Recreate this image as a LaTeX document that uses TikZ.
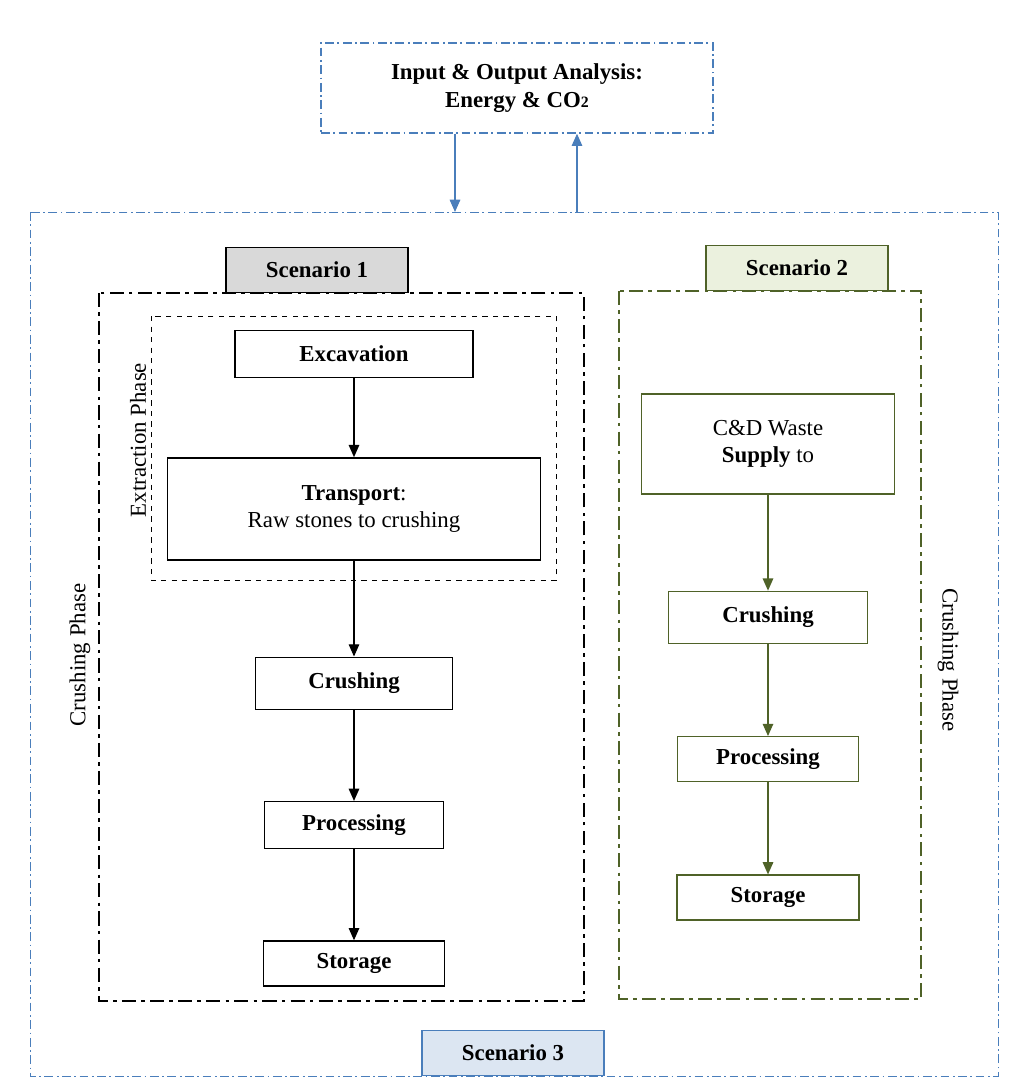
\documentclass[tikz,border=0pt]{standalone}
\usepackage{fontspec}
\setmainfont{Liberation Serif}
\usetikzlibrary{arrows.meta, positioning}
\definecolor{ioblue}{HTML}{4A7EBB}
\definecolor{olive}{HTML}{4F6228}
\definecolor{sgray}{HTML}{D9D9D9}
\definecolor{sgreen}{HTML}{EBF1DE}
\definecolor{sblue}{HTML}{DCE6F2}
\begin{document}
\begin{tikzpicture}[
        x=0.02cm, y=-0.02cm,
        font=\fontsize{13}{15}\selectfont,
        block/.style={rectangle, draw, thick, text centered, inner sep=2pt},
        gblock/.style={block, draw=olive},
        tag/.style={rectangle, draw, thick, font=\fontsize{13}{15}\selectfont\bfseries, minimum width=3.64cm, minimum height=0.9cm},
        phase/.style={line width=1.6pt, dash pattern=on 8pt off 3pt on 2pt off 3pt},
        arrow/.style={thick,-{Triangle[length=7pt,width=6pt]}}
    ]
        \useasboundingbox (0,0) rectangle (1018,1086);

        % Analysis box and frame
        \node[block, draw=ioblue, dash pattern=on 5pt off 2pt on 1pt off 2pt, minimum width=7.84cm, minimum height=1.8cm,
              font=\fontsize{13}{16}\selectfont\bfseries, align=center] (analysis) at (517,88)
              {Input \& Output Analysis:\\Energy \& CO{\fontsize{9}{10}\selectfont 2}};
        \draw[ioblue, thin, dash pattern=on 5pt off 2pt on 1pt off 2pt] (30,212) rectangle (998,1076);
        \coordinate (inA) at (455,212);
        \coordinate (outA) at (577,212);
        \draw[arrow, ioblue] (analysis.south -| inA) -- (inA);
        \draw[arrow, ioblue] (outA) -- (analysis.south -| outA);

        % Scenario 1
        \draw[phase] (99,293) rectangle (584,1001);
        \node[tag, fill=sgray] (scenA) at (317,270) {Scenario 1};
        \draw[dashed] (151,316) rectangle (556,580);
        \node[rotate=90] (extPhase) at (138,440) {Extraction Phase};
        \node[rotate=90] (crushPhaseA) at (80,655) {Crushing Phase};

        \node[block, minimum width=4.76cm, minimum height=0.94cm, font=\fontsize{13}{15}\selectfont\bfseries] (excavation) at (354,354) {Excavation};
        \node[block, minimum width=7.46cm, minimum height=2.04cm, align=center, below=1.58cm of excavation] (transport)
              {\textbf{Transport}:\\Raw stones to crushing};
        \node[block, minimum width=3.94cm, minimum height=1.04cm, font=\fontsize{13}{15}\selectfont\bfseries, below=1.92cm of transport] (crushA) {Crushing};
        \node[block, minimum width=3.58cm, minimum height=0.94cm, font=\fontsize{13}{15}\selectfont\bfseries, below=1.82cm of crushA] (procA) {Processing};
        \node[block, minimum width=3.62cm, minimum height=0.9cm, font=\fontsize{13}{15}\selectfont\bfseries, below=1.82cm of procA] (storeA) {Storage};

        \draw[arrow] (excavation) -- (transport);
        \draw[arrow] (transport) -- (crushA);
        \draw[arrow] (crushA) -- (procA);
        \draw[arrow] (procA) -- (storeA);

        % Scenario 2
        \draw[phase, olive] (619,291) rectangle (921,999);
        \node[tag, draw=olive, fill=sgreen] (scenB) at (797,268) {Scenario 2};
        \node[rotate=-90] (crushPhaseB) at (948,660) {Crushing Phase};

        \node[gblock, minimum width=5.06cm, minimum height=2cm, align=center] (waste) at (768,444) {C\&D Waste\\\textbf{Supply} to};
        \node[gblock, minimum width=3.98cm, minimum height=1.04cm, font=\fontsize{13}{15}\selectfont\bfseries, below=1.92cm of waste] (crushB) {Crushing};
        \node[gblock, minimum width=3.62cm, minimum height=0.9cm, font=\fontsize{13}{15}\selectfont\bfseries, below=1.84cm of crushB] (procB) {Processing};
        \node[gblock, minimum width=3.64cm, minimum height=0.9cm, font=\fontsize{13}{15}\selectfont\bfseries, below=1.84cm of procB] (storeB) {Storage};

        \draw[arrow, olive] (waste) -- (crushB);
        \draw[arrow, olive] (crushB) -- (procB);
        \draw[arrow, olive] (procB) -- (storeB);

        % Scenario 3
        \node[tag, draw=ioblue, fill=sblue] (scenC) at (513,1053) {Scenario 3};
\end{tikzpicture}
\end{document}
